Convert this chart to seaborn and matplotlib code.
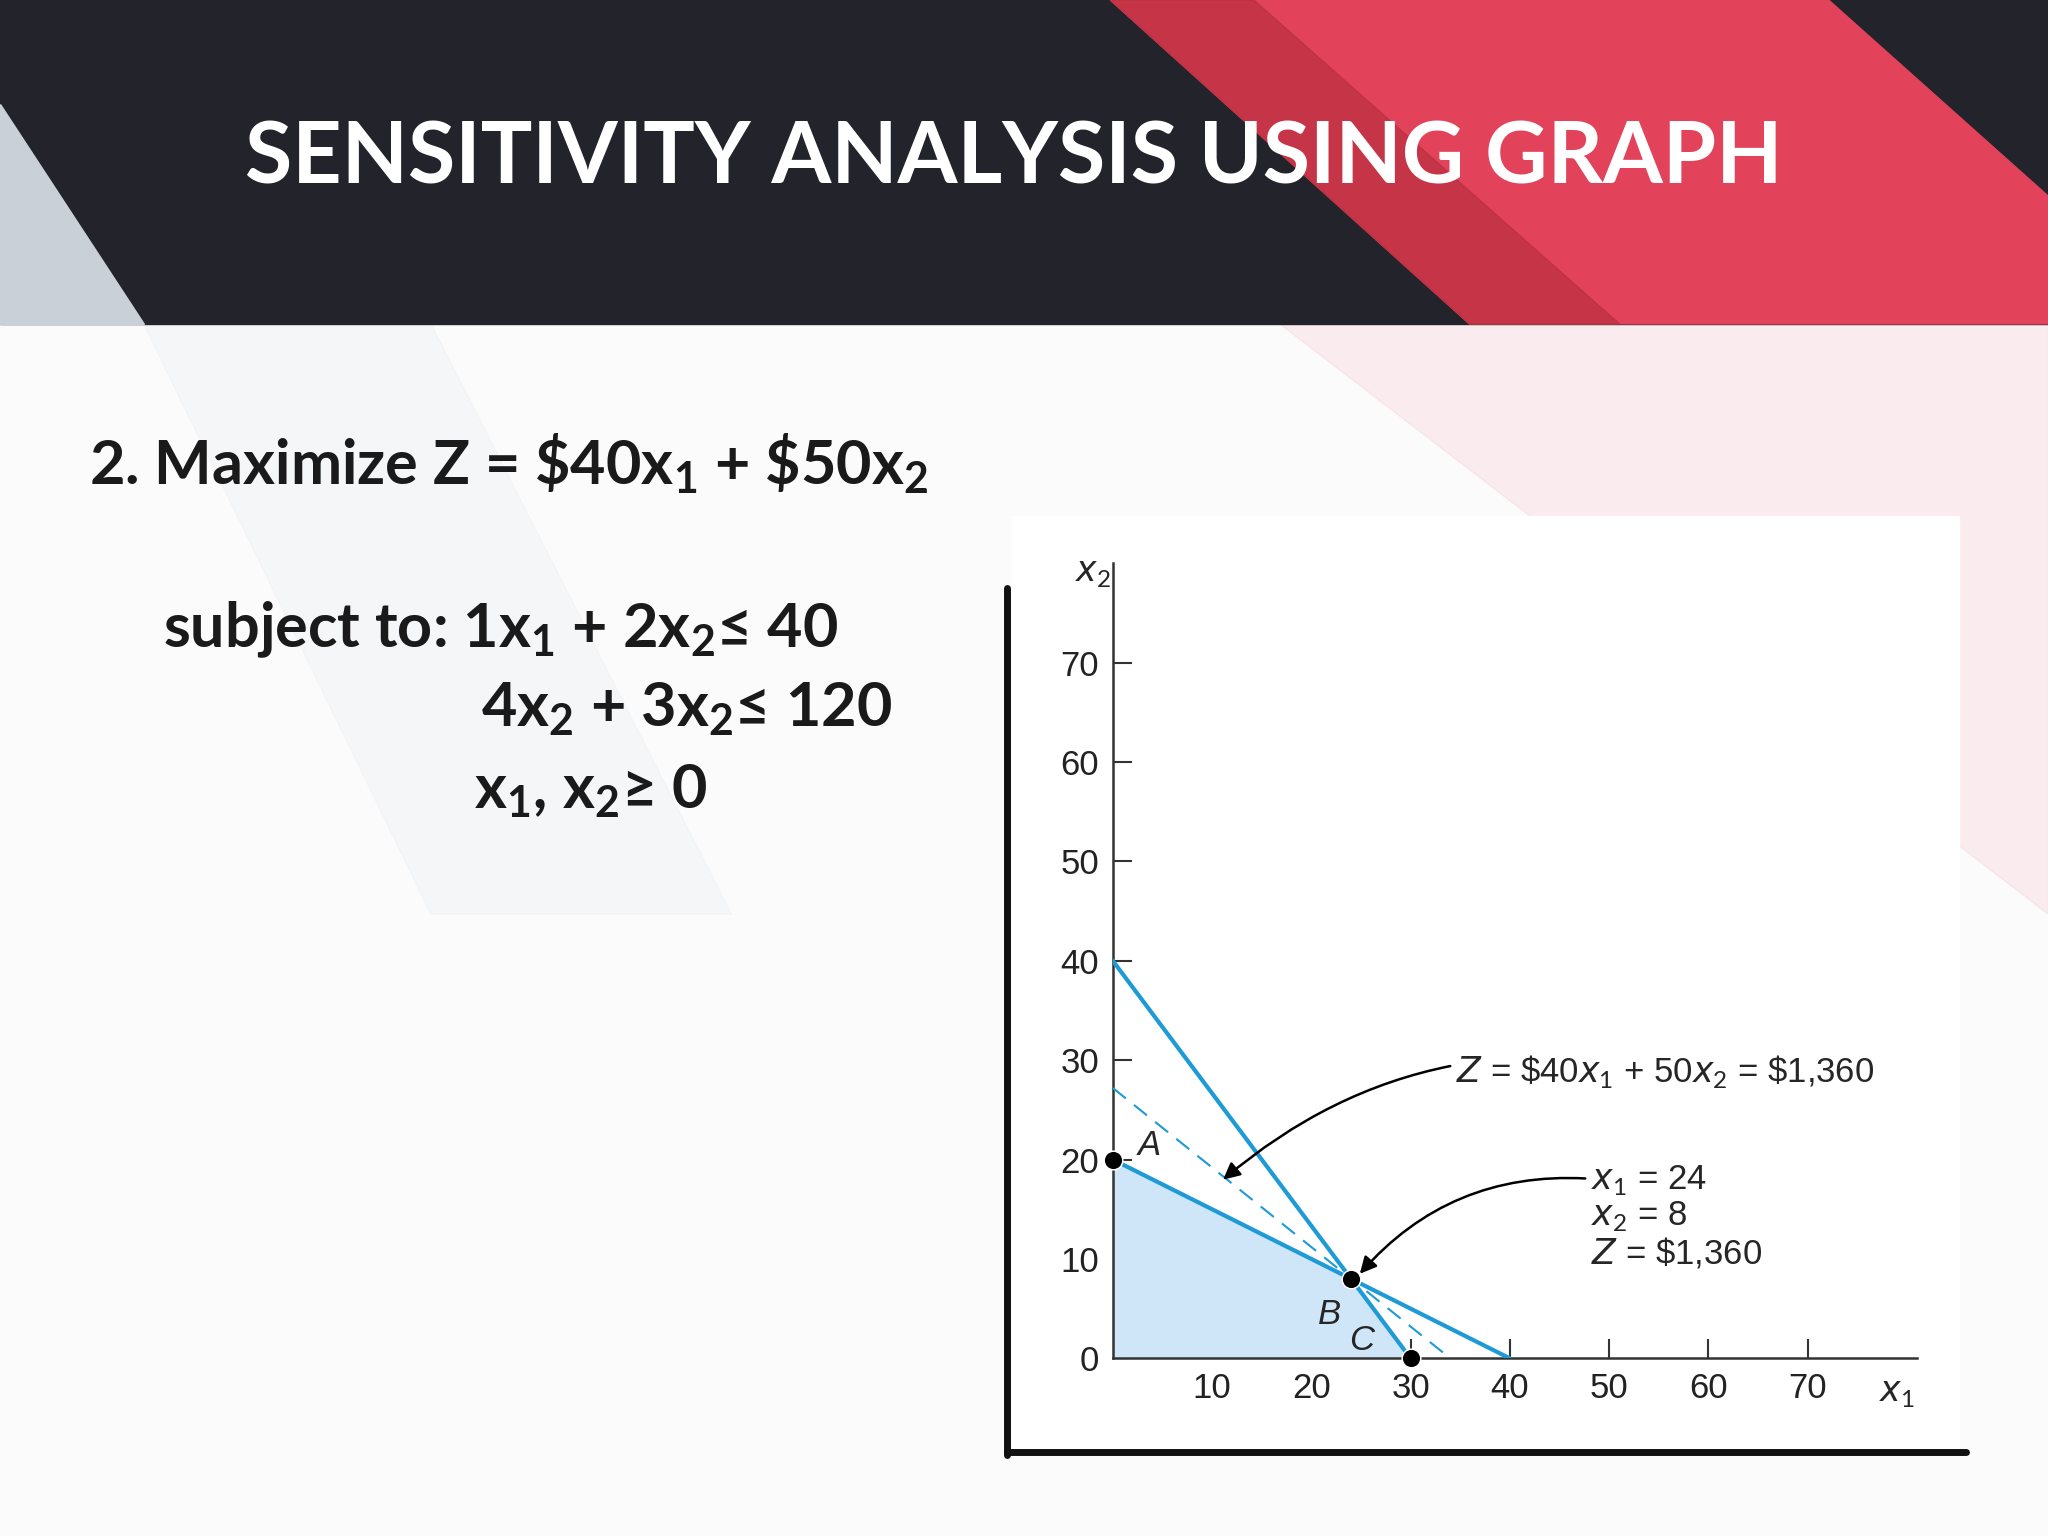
import numpy as np, pandas as pd, matplotlib
matplotlib.use("Agg")
import matplotlib.pyplot as plt
import seaborn as sns
from matplotlib.patches import Polygon, Rectangle

sns.set_theme(style="white")
plt.rcParams['font.family'] = ['Lato', 'DejaVu Sans']
plt.rcParams['mathtext.fontset'] = 'custom'
plt.rcParams['mathtext.rm'] = 'Lato'
plt.rcParams['mathtext.bf'] = 'Lato:bold'

# data
c1_x = [0, 40]; c1_y = [20, 0]          # 1x1 + 2x2 = 40
c2_x = [0, 30]; c2_y = [40, 0]          # 4x1 + 3x2 = 120
z_x = [0, 34]; z_y = [27.2, 0]          # 40x1 + 50x2 = 1360
region_x = [0, 0, 24, 30]; region_y = [0, 20, 8, 0]
pt_names = ["A", "B", "C"]; pt_x = [0, 24, 30]; pt_y = [20, 8, 0]
ticks = [10, 20, 30, 40, 50, 60, 70]
yticks = [0, 10, 20, 30, 40, 50, 60, 70]

fig = plt.figure(figsize=(20.48, 15.36), dpi=100)
bg = fig.add_axes([0, 0, 1, 1]); bg.set_xlim(0, 1568); bg.set_ylim(1176, 0); bg.axis('off')
bg.add_patch(Rectangle((0, 0), 1568, 1176, color='#fbfbfc'))
bg.add_patch(Polygon([(110, 248), (330, 248), (560, 700), (330, 700)], color='#eeeff1', alpha=0.4))
bg.add_patch(Polygon([(980, 248), (1568, 248), (1568, 700)], color='#f6c9cf', alpha=0.3))
# banner
bg.add_patch(Rectangle((0, 0), 1568, 248, color='#22232b'))
bg.add_patch(Polygon([(0, 80), (0, 248), (110, 248)], color='#c9d0d8'))
bg.add_patch(Polygon([(850, 0), (1400, 0), (1568, 150), (1568, 248), (1125, 248)], color='#e2435a'))
bg.add_patch(Polygon([(850, 0), (960, 0), (1240, 248), (1125, 248)], color='#b9303f', alpha=0.7))
bg.text(776, 122, "SENSITIVITY ANALYSIS USING GRAPH", color='white', fontsize=62,
        fontweight='bold', ha='center', va='center')
ts = dict(fontsize=44, fontweight='bold', color='#1a1a1a', va='center')
bg.text(68, 355, r"2. Maximize Z = \$40x$_\mathbf{1}$ + \$50x$_\mathbf{2}$", **ts)
bg.text(125, 482, r"subject to: 1x$_\mathbf{1}$ + 2x$_\mathbf{2}$" + "≤ 40", **ts)
bg.text(368, 543, r"4x$_\mathbf{2}$ + 3x$_\mathbf{2}$" + "≤ 120", **ts)
bg.text(363, 606, r"x$_\mathbf{1}$, x$_\mathbf{2}$" + "≥ 0", **ts)
# chart panel
bg.add_patch(Rectangle((775, 395), 725, 715, color='white'))
bg.plot([771, 771], [450, 1114], color='#111', lw=5)
bg.plot([771, 1505], [1112, 1112], color='#111', lw=5)

ax = fig.add_axes([852/1568, 1-1040/1176, 81*7.6/1568, 80*7.61/1176])
ax.set_xlim(0, 81); ax.set_ylim(0, 80)
ax.patch.set_alpha(0)
lc = '#1e9ad6'
ax.fill(region_x, region_y, color='#cfe6f8', zorder=1)
sns.lineplot(x=c1_x, y=c1_y, ax=ax, color=lc, lw=3, zorder=3)
sns.lineplot(x=c2_x, y=c2_y, ax=ax, color=lc, lw=3, zorder=3)
sns.lineplot(x=z_x, y=z_y, ax=ax, color=lc, lw=1.5, linestyle=(0, (8, 5)), zorder=3)
sns.scatterplot(x=pt_x, y=pt_y, ax=ax, color='black', s=180, zorder=5, clip_on=False)
hf = ['Liberation Sans', 'DejaVu Sans']
ax.text(2.5, 20.5, "A", fontsize=25, style='italic', family=hf)
ax.text(20.7, 3.5, "B", fontsize=25, style='italic', family=hf)
ax.text(23.8, 0.8, "C", fontsize=25, style='italic', family=hf)
for s in ['top', 'right']: ax.spines[s].set_visible(False)
for s in ['left', 'bottom']: ax.spines[s].set_color('#333'); ax.spines[s].set_linewidth(1.8)
ax.set_xticks(ticks); ax.set_yticks(yticks)
ax.tick_params(bottom=True, left=True, direction='in', length=14, width=1.5, color='#333',
               labelsize=25, pad=10)
for l in ax.get_xticklabels() + ax.get_yticklabels(): l.set_family(hf); l.set_color('#222')
ax.text(-2, 79, r"$x_2$", fontsize=25, ha='center', va='center')
ax.text(79, -3.5, r"$x_1$", fontsize=25, ha='center', va='center')
ax.annotate(r"$Z$ = \$40$x_1$ + 50$x_2$ = \$1,360", xy=(10.9, 17.8), xytext=(34.6, 28.9),
            fontsize=25, family=hf, va='center',
            arrowprops=dict(arrowstyle='-|>', color='black', lw=1.8, mutation_scale=25,
                            connectionstyle='arc3,rad=0.25'))
ax.annotate("$x_1$ = 24\n$x_2$ = 8\n$Z$ = \\$1,360", xy=(24.7, 8.3), xytext=(48.2, 19.7),
            fontsize=25, family=hf, va='top', linespacing=1.1,
            arrowprops=dict(arrowstyle='-|>', color='black', lw=1.8, mutation_scale=25,
                            connectionstyle='arc3,rad=0.25', relpos=(0, 0.85)))
fig.savefig("out.png", dpi=100)
